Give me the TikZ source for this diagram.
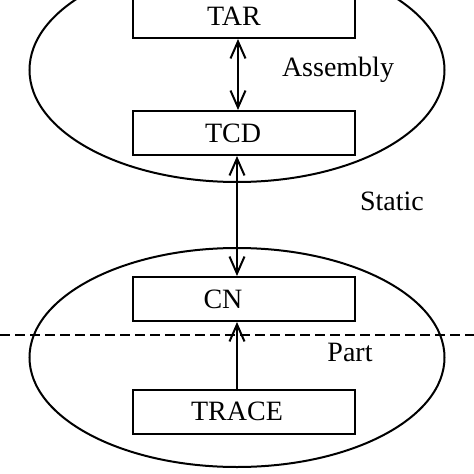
\documentclass[tikz,border=0pt]{standalone}
\usepackage{fontspec}
\setmainfont{Liberation Serif}
\usetikzlibrary{arrows.meta}
\begin{document}
\begin{tikzpicture}[x=1pt,y=-1pt,
  every node/.style={font=\fontsize{28}{30}\selectfont, inner sep=0pt},
  box/.style={draw, line width=2pt, minimum width=222pt, minimum height=44pt},
  conn/.style={line width=2pt, arrows={-Straight Barb[length=17pt,width=15pt]}},
  dconn/.style={line width=2pt, arrows={Straight Barb[length=17pt,width=15pt]-Straight Barb[length=17pt,width=15pt]}}]
\useasboundingbox (0,0) rectangle (474,474);
\fill[white] (0,0) rectangle (474,474);
% regions
\draw[line width=2pt] (237,70) ellipse [x radius=207.5, y radius=112];
\draw[line width=2pt] (237,357.5) ellipse [x radius=207.5, y radius=109.5];
% dashed separator
\coordinate (dl) at (0,334.7);
\coordinate (dr) at (474,334.7);
\draw[line width=1.8pt, dash pattern=on 10pt off 5pt] (dl) -- (dr);
% boxes
\node[box] (tar) at (244,16) {};
\node (tart) at (234,16) {TAR};
\node[box] (tcd) at (244,133) {};
\node (tcdt) at (233,133) {TCD};
\node[box] (cn) at (244,299) {};
\node (cnt) at (223,299) {CN};
\node[box] (trace) at (244,411.5) {};
\node (tracet) at (237,411.5) {TRACE};
% connectors
\draw[dconn] ([xshift=-6pt]tar.south) -- ([xshift=-6pt]tcd.north);
\draw[dconn] ([xshift=-7pt]tcd.south) -- ([xshift=-7pt]cn.north);
\draw[conn] ([xshift=-7pt]trace.north) -- ([xshift=-7pt]cn.south);
% labels
\node (asm) at (338,70) {Assembly};
\node (static) at (392,201) {Static};
\node (part) at (350,352) {Part};
\end{tikzpicture}
\end{document}
